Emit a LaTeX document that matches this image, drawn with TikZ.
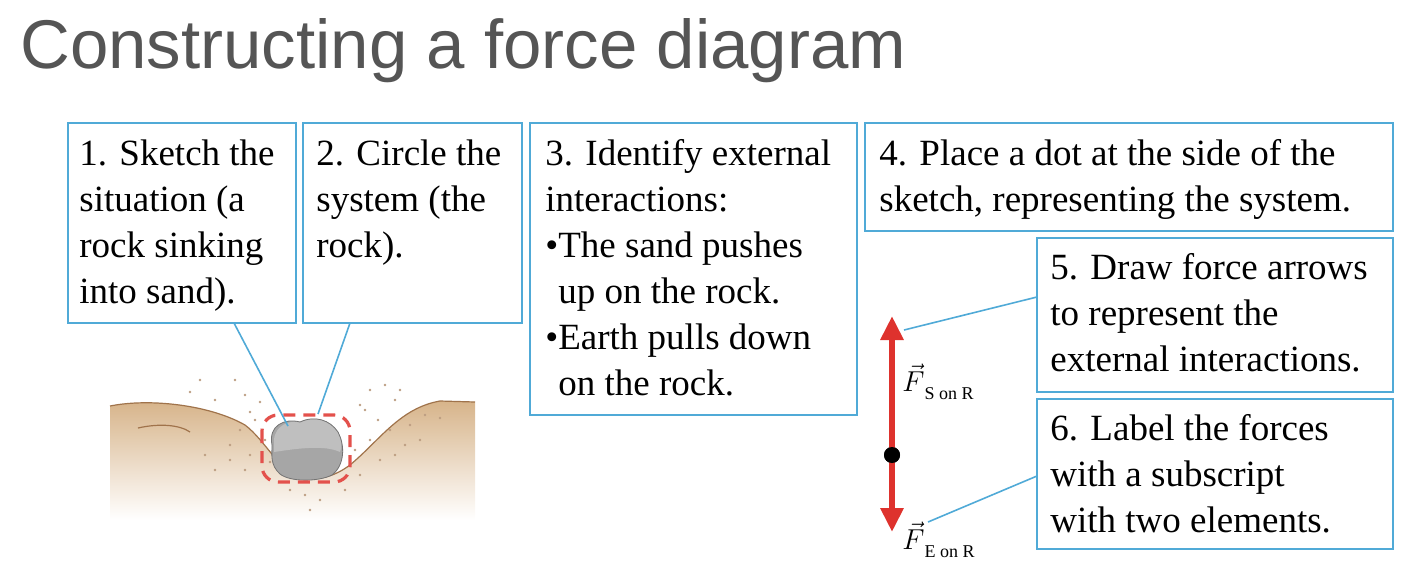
\documentclass[tikz,border=0pt]{standalone}
\usepackage{fontspec}
\setmainfont{Liberation Serif}
\newfontfamily\titlefont{Liberation Sans}
\usetikzlibrary{arrows.meta,shapes.geometric}
\definecolor{boxblue}{RGB}{80,170,215}
\definecolor{sandtop}{RGB}{214,178,135}
\definecolor{sandline}{RGB}{160,115,75}
\definecolor{fred}{RGB}{222,50,45}
\definecolor{titlegray}{RGB}{85,85,85}
\begin{document}
\begin{tikzpicture}[x=0.5pt,y=-0.5pt,
  infobox/.style={draw=boxblue,line width=1pt},
  infotext/.style={anchor=north west,align=left,inner sep=0pt,font=\fontsize{18.5}{23}\selectfont},
  leader/.style={draw=boxblue,line width=0.8pt}]
\useasboundingbox (0,0) rectangle (1424,580);
\node[anchor=base west,inner sep=0pt,text=titlegray,font=\titlefont\fontsize{34.5}{38}\selectfont] (title) at (20,68) {Constructing a force diagram};
% boxes
\draw[infobox] (68,123) rectangle (296,323);
\draw[infobox] (303,123) rectangle (522,323);
\draw[infobox] (530,123) rectangle (857,415);
\draw[infobox] (865,123) rectangle (1393,231);
\draw[infobox] (1037,238) rectangle (1393,392);
\draw[infobox] (1037,399) rectangle (1393,549);
\node[infotext] (t1) at (79,139) {1. Sketch the\\situation (a\\rock sinking\\into sand).};
\node[infotext] (t2) at (316,139) {2. Circle the\\system (the\\rock).};
\node[infotext] (t3) at (545,139) {3. Identify external\\interactions:\\\textbullet The sand pushes\\\hphantom{\textbullet}up on the rock.\\\textbullet Earth pulls down\\\hphantom{\textbullet}on the rock.};
\node[infotext] (t4) at (879,139) {4. Place a dot at the side of the\\sketch, representing the system.};
\node[infotext] (t5) at (1050,253) {5. Draw force arrows\\to represent the\\external interactions.};
\node[infotext] (t6) at (1050,414) {6. Label the forces\\with a subscript\\with two elements.};
% sand
\def\sandpath{(110,406) .. controls (150,398) and (210,405) .. (245,425) .. controls (265,440) and (280,472) .. (300,477) .. controls (320,481) and (335,476) .. (350,465) .. controls (380,440) and (400,408) .. (440,401) -- (475,402)}
\shade[top color=sandtop,bottom color=white] \sandpath -- (475,520) -- (110,520) -- cycle;
\draw[sandline,line width=0.6pt] \sandpath;
\draw[sandline,line width=0.6pt] (138,428) .. controls (160,423) and (180,425) .. (190,432);
\foreach \px/\py in {190/392, 215/400, 235/380, 245/395, 250/412, 260/402, 240/430, 265/440, 275/430, 290/438, 250/455, 270/462, 230/460, 205/455, 290/490, 305/495, 310/510, 320/500, 360/405, 370/390, 385/385, 395/400, 378/420, 370/440, 390/430, 410/425, 425/415, 440/418, 405/445, 380/460, 360/475, 345/490, 355/450, 365/410, 400/390, 230/445, 255/420, 420/440, 395/455, 200/380, 215/470, 245/470}
  \fill[sandline!70] (\px,\py) circle (1.3);
% rock
\def\rockpath{(272,445) .. controls (268,425) and (285,418) .. (300,422) .. controls (315,415) and (330,420) .. (338,432) .. controls (345,445) and (345,465) .. (332,475) .. controls (318,482) and (290,482) .. (280,474) .. controls (270,465) and (272,455) .. (272,445) -- cycle}
\fill[gray!70] \rockpath;
\fill[gray!50] (274,440) .. controls (275,425) and (290,420) .. (300,422) .. controls (315,415) and (330,420) .. (338,432) .. controls (342,442) and (342,448) .. (340,452) .. controls (325,445) and (300,448) .. (274,452) -- cycle;
\draw[gray!90!black,line width=0.4pt] \rockpath;
\draw[fred!85,line width=1.6pt,dash pattern=on 6pt off 4pt,rounded corners=8] (262,415) rectangle (350,482);
\coordinate (r1) at (288,426);
\coordinate (r2) at (318,414);
\draw[leader] (234,323) -- (r1);
\draw[leader] (350,323) -- (r2);
% forces
\node[circle,fill=black,inner sep=0pt,minimum size=8pt] (dot) at (892,455) {};
\draw[fred,line width=3pt,-{Triangle[width=11pt,length=12pt]}] (dot.center) -- (892,316);
\draw[fred,line width=3pt,-{Triangle[width=11pt,length=12pt]}] (dot.center) -- (892,532);
\node[circle,fill=black,inner sep=0pt,minimum size=8pt] at (892,455) {};
\node[anchor=west,inner sep=0pt,font=\fontsize{15}{18}\selectfont] (fs) at (902,382) {$\vec{F}$\raisebox{-4pt}{\fontsize{9}{10}\selectfont S on R}};
\node[anchor=west,inner sep=0pt,font=\fontsize{15}{18}\selectfont] (fe) at (902,540) {$\vec{F}$\raisebox{-4pt}{\fontsize{9}{10}\selectfont E on R}};
\coordinate (a5) at (904,330);
\coordinate (a6) at (928,522);
\draw[leader] (1037,297) -- (a5);
\draw[leader] (1037,476) -- (a6);
\end{tikzpicture}
\end{document}
